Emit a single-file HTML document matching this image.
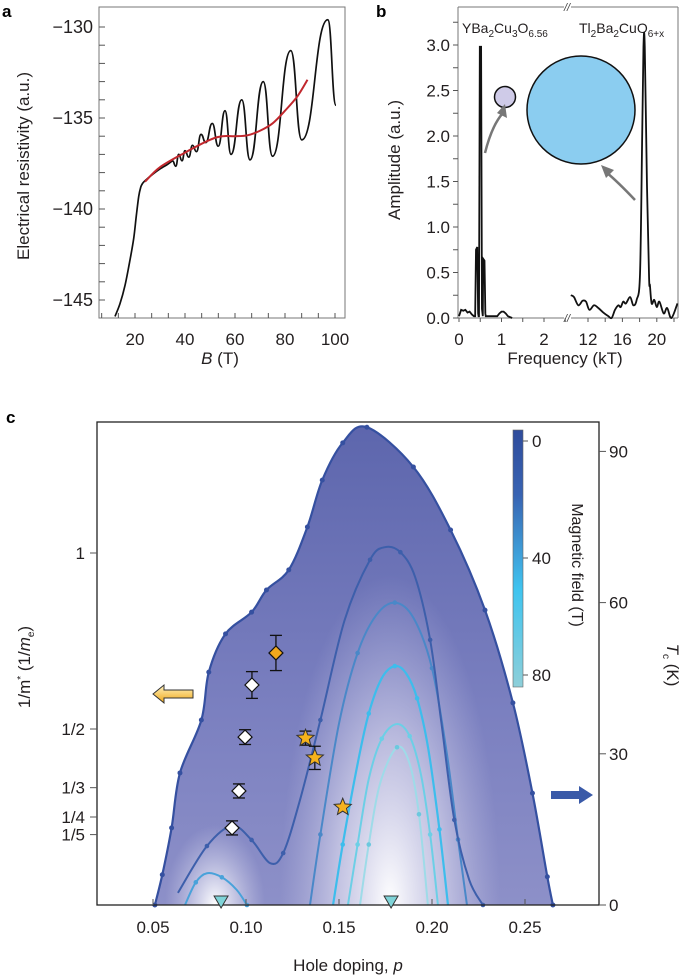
<!DOCTYPE html>
<html><head><meta charset="utf-8">
<style>
html,body{margin:0;padding:0;background:#fff;}
svg{display:block;font-family:"Liberation Sans",Arial,sans-serif;}
</style></head>
<body>
<svg id="fig" width="685" height="980" viewBox="0 0 685 980" xmlns="http://www.w3.org/2000/svg">
<defs>
  <linearGradient id="domeBase" x1="0" y1="0" x2="0" y2="1">
    <stop offset="0" stop-color="#5d66ad"/><stop offset="0.6" stop-color="#7b80c0"/><stop offset="1" stop-color="#8d90c8"/>
  </linearGradient>
  <radialGradient id="glowR" cx="390" cy="905" r="1" gradientUnits="userSpaceOnUse" gradientTransform="translate(390 905) scale(110 330) translate(-390 -905)">
    <stop offset="0" stop-color="#ffffff" stop-opacity="1"/><stop offset="0.5" stop-color="#e4e2f2" stop-opacity="0.6"/><stop offset="1" stop-color="#c8c8e6" stop-opacity="0"/>
  </radialGradient>
  <radialGradient id="glowL" cx="215" cy="905" r="1" gradientUnits="userSpaceOnUse" gradientTransform="translate(215 905) scale(50 80) translate(-215 -905)">
    <stop offset="0" stop-color="#ffffff" stop-opacity="1"/><stop offset="1" stop-color="#d0d0ea" stop-opacity="0"/>
  </radialGradient>
  <linearGradient id="cbar" x1="0" y1="0" x2="0" y2="1">
    <stop offset="0" stop-color="#2f4c9c"/><stop offset="0.25" stop-color="#3863b2"/><stop offset="0.5" stop-color="#3fa4dc"/><stop offset="0.62" stop-color="#3fc4ef"/><stop offset="1" stop-color="#8ecfd9"/>
  </linearGradient>
  <linearGradient id="yarrow" x1="0" y1="0" x2="0" y2="1">
    <stop offset="0" stop-color="#fff3c0"/><stop offset="1" stop-color="#f0a81a"/>
  </linearGradient>
  <clipPath id="domeClip"><path id="domeClipPath" d=""/></clipPath>
</defs>

<text x="2" y="17" font-size="17" font-weight="bold">a</text>
<text x="376" y="17" font-size="17" font-weight="bold">b</text>
<text x="6" y="423" font-size="17" font-weight="bold">c</text>

<g id="panelA"></g>
<g id="panelB"></g>
<g id="panelC"></g>
</svg>

<script>
// ---------- Panel a data ----------
const aTicksY = [-130, -135, -140, -145];
const aTicksX = [20, 40, 60, 80, 100];
const aBlackB = [12,14,16,18,19.5,20.5,21.5,22.3,23,24,27,30,33,35,36.3,37.5,38.8,40,41.5,43,44.6,46.4,48.3,50.9,53.3,56,58.4,62.7,66,71.3,75,82.3,86.7,97.1,100.4];
const aBlackV = [-145.9,-145.2,-144.2,-142.8,-141.6,-140.4,-139.3,-138.8,-138.6,-138.45,-138.1,-137.8,-137.55,-137.35,-137.65,-137.0,-137.35,-136.8,-137.15,-136.5,-136.85,-135.9,-136.35,-135.3,-136.55,-134.6,-137.0,-134.0,-137.3,-133.0,-137.1,-131.3,-136.2,-129.6,-134.3];
const aRedB = [24,30,40,50,55,60,65,70,75,80,85,89];
const aRedV = [-138.5,-137.7,-136.9,-136.2,-136.0,-136.0,-135.95,-135.7,-135.3,-134.6,-133.8,-132.9];

// ---------- Panel b data ----------
const bTicksY = [0, 0.5, 1.0, 1.5, 2.0, 2.5, 3.0];
const bTicksXLeft = [0, 1, 2];
const bTicksXRight = [12, 16, 20];
const bLeftF = [0,0.05,0.1,0.15,0.2,0.25,0.3,0.35,0.38,0.4,0.43,0.45,0.46,0.47,0.49,0.52,0.54,0.56,0.57,0.6,0.62,0.63,0.8,0.9,0.95,1.0,1.05,1.1,1.15,1.25];
const bLeftA = [0.02,0.09,0.08,0.09,0.06,0.07,0.04,0.02,0.02,0.75,0.78,0.05,0.02,0.02,2.98,2.98,0.1,0.02,0.65,0.63,0.05,0.02,0.02,0.02,0.05,0.07,0.07,0.05,0.02,0.0];
const bRightF = [10.0,10.37,10.87,11.38,11.77,12.16,12.7,13.2,13.78,14.36,14.75,15.14,15.53,15.8,16.1,16.4,16.9,17.27,17.66,18.05,18.3,18.45,18.6,18.85,19.1,19.2,19.4,19.7,20.0,20.3,20.8,21.2,21.7,22.4];
const bRightA = [0.25,0.23,0.14,0.19,0.18,0.09,0.14,0.11,0.06,0.02,0.0,0.09,0.14,0.12,0.18,0.16,0.23,0.14,0.2,0.49,2.0,2.98,2.98,1.5,0.45,0.36,0.16,0.2,0.12,0.18,0.05,0.11,0.0,0.16];

// ---------- Panel c data ----------
const cTicksX = [0.05, 0.10, 0.15, 0.20, 0.25];
const cTicksLeftVal = [1, 0.5, 1/3, 0.25, 0.2];
const cTicksLeftLab = ["1", "1/2", "1/3", "1/4", "1/5"];
const cTicksTc = [90, 60, 30, 0];
const cbarTicks = [0, 40, 80];
const domeP = [0.051,0.055,0.060,0.0645,0.076,0.080,0.089,0.103,0.111,0.123,0.133,0.141,0.152,0.165,0.190,0.210,0.2285,0.2435,0.254,0.262,0.265];
const domeT = [0,6,15.3,26.2,36.7,46.2,53.8,58.1,62.5,66.5,75,84.3,91.7,94.8,86.9,74.4,58.5,40.1,22.2,5.6,0];
const c1P = [0.0634,0.079,0.0925,0.103,0.113,0.120,0.129,0.140,0.153,0.1667,0.1747,0.183,0.191,0.199,0.205,0.212,0.220,0.2274];
const c1T = [2.4,11.7,15.7,12.9,8.3,10.3,20.8,36.7,56.5,68.5,71,70,65,52.6,36.3,16.9,5,0];
const c2P = [0.1344,0.140,0.150,0.160,0.170,0.180,0.190,0.200,0.208,0.214,0.2188];
const c2T = [0,14,36,50,57.5,60,57,47,30,13,0];
const c3P = [0.1468,0.152,0.160,0.166,0.173,0.180,0.186,0.192,0.198,0.204,0.2086];
const c3T = [0,12,28,38,45,47.4,46,41,31,15,0];
const c4P = [0.1548,0.160,0.166,0.173,0.181,0.188,0.194,0.199,0.2032];
const c4T = [0,12,25,33,35.9,33.5,26,14,0];
const c5P = [0.1613,0.166,0.172,0.1812,0.188,0.193,0.1978];
const c5T = [0,12,24,31.3,28,18,0];
const humpP = [0.0672,0.073,0.079,0.087,0.095,0.1005];
const humpT = [0,4.5,6.3,5.5,3,0];
const whiteP = [0.1032,0.0995,0.0962,0.0925];
const whiteV = [0.625,0.477,0.324,0.219];
const whiteErr = [0.038,0.021,0.02,0.02];
const orangeP = [0.1161];
const orangeV = [0.716];
const orangeErr = [0.05];
const starP = [0.132,0.137,0.152];
const starV = [0.474,0.418,0.278];
const starErr = [0.02,0.033,0];
const triP = [0.0866,0.178];

const NS = "http://www.w3.org/2000/svg";
function mk(tag, attrs, parent) {
  const e = document.createElementNS(NS, tag);
  for (const k in attrs) e.setAttribute(k, attrs[k]);
  parent.appendChild(e);
  return e;
}
function txt(parent, x, y, s, size, anchor) {
  const t = mk("text", {x: x, y: y, "font-size": size, "text-anchor": anchor || "middle", fill: "#231f20"}, parent);
  t.textContent = s;
  return t;
}
function catmull(pts) {
  let d = "M" + pts[0][0].toFixed(2) + "," + pts[0][1].toFixed(2);
  for (let i = 0; i < pts.length - 1; i++) {
    const p0 = pts[i - 1] || pts[i], p1 = pts[i], p2 = pts[i + 1], p3 = pts[i + 2] || pts[i + 1];
    const c1x = p1[0] + (p2[0] - p0[0]) / 6, c1y = p1[1] + (p2[1] - p0[1]) / 6;
    const c2x = p2[0] - (p3[0] - p1[0]) / 6, c2y = p2[1] - (p3[1] - p1[1]) / 6;
    d += " C" + c1x.toFixed(2) + "," + c1y.toFixed(2) + " " + c2x.toFixed(2) + "," + c2y.toFixed(2) + " " + p2[0].toFixed(2) + "," + p2[1].toFixed(2);
  }
  return d;
}
function flatSmooth(pts) {
  let d = "M" + pts[0][0].toFixed(2) + "," + pts[0][1].toFixed(2);
  for (let i = 0; i < pts.length - 1; i++) {
    const a = pts[i], b = pts[i + 1], dx = (b[0] - a[0]) / 2;
    d += " C" + (a[0] + dx).toFixed(2) + "," + a[1].toFixed(2) + " " + (b[0] - dx).toFixed(2) + "," + b[1].toFixed(2) + " " + b[0].toFixed(2) + "," + b[1].toFixed(2);
  }
  return d;
}
function lin(pts) { return "M" + pts.map(p => p[0].toFixed(2) + "," + p[1].toFixed(2)).join(" L"); }

// ================= Panel A =================
(function () {
  const g = document.getElementById("panelA");
  const xa = B => 85 + 2.5 * B;
  const ya = v => 27 + (-130 - v) * 18.2;
  const L = 99, R = 345, T = 7, Bm = 318;
  const frame = mk("rect", {x: L, y: T, width: R - L, height: Bm - T, fill: "none", stroke: "#777", "stroke-width": 1}, g);
  
  
  for (let v = -130; v >= -146; v--) {
    const y = ya(v); if (y < T || y > Bm) continue;
    mk("line", {x1: L, x2: L + 6, y1: y, y2: y, stroke: "#555", "stroke-width": 1}, g);
  }
  aTicksY.forEach(v => {
    const t = txt(g, L - 6, ya(v) + 6, "\u2212" + Math.abs(v), 18, "end");
    
    
  });
  for (let B = 20 - 40 / 3; B <= 106; B += 20 / 3) {
    const x = xa(B); if (x < L || x > R) continue;
    mk("line", {x1: x, x2: x, y1: Bm, y2: Bm - 5, stroke: "#555", "stroke-width": 1}, g);
  }
  aTicksX.forEach(B => {
    const t = txt(g, xa(B), 345, String(B), 17);
    
    
  });
  const xl = mk("text", {x: 220, y: 364, "font-size": 17, "text-anchor": "middle", fill: "#231f20"}, g);
  xl.innerHTML = '<tspan font-style="italic">B</tspan> (T)';
  
  
  const yl = mk("text", {x: 0, y: 0, "font-size": 17, "text-anchor": "middle", fill: "#231f20", transform: "translate(29,166) rotate(-90)"}, g);
  yl.textContent = "Electrical resistivity (a.u.)";
  
  

  const pts = aBlackB.map((b, i) => [xa(b), ya(aBlackV[i])]);
  const riseN = 13;
  let d = catmull(pts.slice(0, riseN + 1));
  d += flatSmooth(pts.slice(riseN)).replace(/^M[^C]*/, " ");
  const blk = mk("path", {d: d, fill: "none", stroke: "#111", "stroke-width": 1.7}, g);
  
  
  const red = mk("path", {d: catmull(aRedB.map((b, i) => [xa(b), ya(aRedV[i])])), fill: "none", stroke: "#c1272d", "stroke-width": 2}, g);
  
  
})();

// ================= Panel B =================
(function () {
  const g = document.getElementById("panelB");
  const xl = f => 459 + 42.5 * f;
  const xr = f => 588 + 8.6 * (f - 12);
  const yb = A => 318 - 91 * A;
  const L = 458, R = 678, T = 7, Bm = 318;
  mk("line", {x1: L, x2: L, y1: T, y2: Bm, stroke: "#777"}, g);
  mk("line", {x1: R, x2: R, y1: T, y2: Bm, stroke: "#777"}, g);
  mk("line", {x1: L, x2: 564, y1: T, y2: T, stroke: "#777"}, g);
  mk("line", {x1: 571, x2: R, y1: T, y2: T, stroke: "#777"}, g);
  mk("line", {x1: L, x2: 564, y1: Bm, y2: Bm, stroke: "#777"}, g);
  mk("line", {x1: 571, x2: R, y1: Bm, y2: Bm, stroke: "#777"}, g);
  [[564, T], [564, Bm]].forEach(p => {
    const br = mk("text", {x: p[0] + 3, y: p[1] + 4, "font-size": 11, "text-anchor": "middle", fill: "#444", "font-style": "italic"}, g);
    br.textContent = "//";
    
    
  });
  for (let A = 0; A <= 3.25; A += 0.25) mk("line", {x1: L - 5, x2: L, y1: yb(A), y2: yb(A), stroke: "#555"}, g);
  bTicksY.forEach(A => {
    const t = txt(g, L - 8, yb(A) + 6, A.toFixed(1), 17, "end");
    
    
  });
  for (let f = 0; f <= 2.5; f += 0.5) mk("line", {x1: xl(f), x2: xl(f), y1: Bm, y2: Bm + 4, stroke: "#555"}, g);
  for (let f = 12; f <= 22; f += 2) mk("line", {x1: xr(f), x2: xr(f), y1: Bm, y2: Bm + 4, stroke: "#555"}, g);
  bTicksXLeft.forEach(f => { const t = txt(g, xl(f), 345, String(f), 17);   });
  bTicksXRight.forEach(f => { const t = txt(g, xr(f), 345, String(f), 17);   });
  const xt = txt(g, 565, 364, "Frequency (kT)", 17);
  
  
  const yt = mk("text", {x: 0, y: 0, "font-size": 17, "text-anchor": "middle", fill: "#231f20", transform: "translate(400,160) rotate(-90)"}, g);
  yt.textContent = "Amplitude (a.u.)";
  
  

  const l1 = mk("text", {x: 462, y: 33, "font-size": 14, fill: "#231f20"}, g);
  l1.innerHTML = 'YBa<tspan font-size="10" dy="4">2</tspan><tspan dy="-4">Cu</tspan><tspan font-size="10" dy="4">3</tspan><tspan dy="-4">O</tspan><tspan font-size="10" dy="4">6.56</tspan>';
  
  
  const l2 = mk("text", {x: 579, y: 33, "font-size": 14, fill: "#231f20"}, g);
  l2.innerHTML = 'Tl<tspan font-size="10" dy="4">2</tspan><tspan dy="-4">Ba</tspan><tspan font-size="10" dy="4">2</tspan><tspan dy="-4">CuO</tspan><tspan font-size="10" dy="4">6+x</tspan>';
  
  

  const c1 = mk("circle", {cx: 505, cy: 97, r: 10.5, fill: "#cfcbe8", stroke: "#111", "stroke-width": 1.5}, g);
  
  
  const c2 = mk("circle", {cx: 581, cy: 110, r: 54, fill: "#8bcdf0", stroke: "#111", "stroke-width": 1.5}, g);
  
  
  const a1 = mk("path", {d: "M485,153 Q492,125 503,113", fill: "none", stroke: "#777", "stroke-width": 2.5}, g);
  
  
  mk("path", {d: "M505,104 L507,118 L497,113 Z", fill: "#777"}, g);
  const a2 = mk("path", {d: "M635,200 Q618,182 606,172", fill: "none", stroke: "#777", "stroke-width": 2.5}, g);
  
  
  mk("path", {d: "M601,165 L614,170 L606,178 Z", fill: "#777"}, g);

  const lp = mk("path", {d: lin(bLeftF.map((f, i) => [xl(f), yb(bLeftA[i])])), fill: "none", stroke: "#111", "stroke-width": 1.8}, g);
  
  
  const rp = mk("path", {d: catmull(bRightF.map((f, i) => [xr(f), yb(bRightA[i])])), fill: "none", stroke: "#111", "stroke-width": 1.8}, g);
  
  
})();

// ================= Panel C =================
(function () {
  const g = document.getElementById("panelC");
  const xc = p => 60 + 1860 * p;
  const yT = T => 905 - 5.04 * T;
  const ym = v => 905 - 352 * v;
  const L = 97, R = 599, T0 = 422, Bm = 905;

  const domePts = domeP.map((p, i) => [xc(p), yT(domeT[i])]);
  const domeD = catmull(domePts) + " Z";
  document.getElementById("domeClipPath").setAttribute("d", domeD);
  const fill = mk("path", {d: domeD, fill: "url(#domeBase)"}, g);
  
  
  const gl = mk("g", {"clip-path": "url(#domeClip)"}, g);
  mk("rect", {x: 250, y: 550, width: 300, height: 360, fill: "url(#glowR)"}, gl);
  mk("rect", {x: 160, y: 820, width: 110, height: 90, fill: "url(#glowL)"}, gl);

  const contours = [
    [humpP, humpT, "#49a2da", 2, 'contour-low-doping'],
    [c5P, c5T, "#9edbe8", 2, 'contour-80t'],
    [c4P, c4T, "#6ccfe6", 2, 'contour-60t'],
    [c3P, c3T, "#3dbdec", 2.2, 'contour-40t'],
    [c2P, c2T, "#4a88c8", 2, 'contour-20t'],
    [c1P, c1T, "#3d5fab", 2, 'contour-10t']
  ];
  contours.forEach(c => {
    const pts = c[0].map((p, i) => [xc(p), yT(c[1][i])]);
    const e = mk("path", {d: catmull(pts), fill: "none", stroke: c[2], "stroke-width": c[3]}, g);
    
    
    pts.forEach((pt, i) => {
      if (i % 2 === 1) {
        const dt = mk("circle", {cx: pt[0], cy: pt[1], r: 2.3, fill: c[2] === "#9edbe8" ? "#6cc8de" : c[2]}, g);
        
        
      }
    });
  });
  const outline = mk("path", {d: catmull(domePts), fill: "none", stroke: "#3550a0", "stroke-width": 2.2}, g);
  
  
  domePts.forEach(pt => {
    const dt = mk("circle", {cx: pt[0], cy: pt[1], r: 2.5, fill: "#3550a0"}, g);
    
    
  });

  const fr = mk("rect", {x: L, y: T0, width: R - L, height: Bm - T0, fill: "none", stroke: "#222", "stroke-width": 1.3}, g);
  
  
  cTicksX.forEach(p => {
    mk("line", {x1: xc(p), x2: xc(p), y1: Bm, y2: Bm - 6, stroke: "#555"}, g);
    const t = txt(g, xc(p), 933, p.toFixed(2), 17);
    
    
  });
  cTicksLeftVal.forEach((v, i) => {
    mk("line", {x1: L - 7, x2: L, y1: ym(v), y2: ym(v), stroke: "#555"}, g);
    const t = txt(g, L - 12, ym(v) + 6, cTicksLeftLab[i], 17, "end");
    
    
  });
  cTicksTc.forEach(T => {
    mk("line", {x1: R, x2: R + 7, y1: yT(T), y2: yT(T), stroke: "#555"}, g);
    const t = txt(g, R + 10, yT(T) + 6, String(T), 17, "start");
    
    
  });
  const xt = mk("text", {x: 348, y: 971, "font-size": 17, "text-anchor": "middle", fill: "#231f20"}, g);
  xt.innerHTML = 'Hole doping, <tspan font-style="italic">p</tspan>';
  
  
  const yt = mk("text", {x: 0, y: 0, "font-size": 17, "text-anchor": "middle", fill: "#231f20", transform: "translate(30,667) rotate(-90)"}, g);
  yt.innerHTML = '1/m<tspan font-size="10" dy="-6">*</tspan><tspan dy="6"> (1/</tspan><tspan font-style="italic">m</tspan><tspan font-size="10" dy="4">e</tspan><tspan dy="-4">)</tspan>';
  
  
  const tt = mk("text", {x: 0, y: 0, "font-size": 17, "text-anchor": "middle", fill: "#231f20", transform: "translate(667,665) rotate(90)"}, g);
  tt.innerHTML = '<tspan font-style="italic">T</tspan><tspan font-size="10" dy="4">c</tspan><tspan dy="-4"> (K)</tspan>';
  
  

  const cb = mk("rect", {x: 513, y: 430, width: 10, height: 257, fill: "url(#cbar)", stroke: "#666", "stroke-width": 0.6}, g);
  
  
  const cby = f => 441 + (f / 80) * 234;
  cbarTicks.forEach(f => {
    mk("line", {x1: 523, x2: 528, y1: cby(f), y2: cby(f), stroke: "#555"}, g);
    const t = txt(g, 532, cby(f) + 6, String(f), 17, "start");
    
    
  });
  const ct = mk("text", {x: 0, y: 0, "font-size": 16, "text-anchor": "middle", fill: "#231f20", transform: "translate(572,565) rotate(90)"}, g);
  ct.textContent = "Magnetic field (T)";
  
  

  const ya = mk("path", {d: "M153,694 L164,685 L164,690 L193,690 L193,698 L164,698 L164,703 Z", fill: "url(#yarrow)", stroke: "#333", "stroke-width": 1}, g);
  
  
  const ba = mk("path", {d: "M551,791 L579,791 L579,786 L593,795 L579,804 L579,799 L551,799 Z", fill: "#3a5aa8"}, g);
  
  

  triP.forEach(p => {
    const x = xc(p);
    const t = mk("path", {d: `M${x - 7},${Bm - 9} L${x + 7},${Bm - 9} L${x},${Bm + 3} Z`, fill: "#7fd3d8", stroke: "#333", "stroke-width": 1}, g);
    
    
  });

  function errbar(x, v, e) {
    if (e <= 0) return;
    const y1 = ym(v + e), y2 = ym(v - e);
    mk("line", {x1: x, x2: x, y1: y1, y2: y2, stroke: "#111", "stroke-width": 1.3}, g);
    mk("line", {x1: x - 6, x2: x + 6, y1: y1, y2: y1, stroke: "#111", "stroke-width": 1.3}, g);
    mk("line", {x1: x - 6, x2: x + 6, y1: y2, y2: y2, stroke: "#111", "stroke-width": 1.3}, g);
  }
  function diamond(x, y, fillc) {
    return mk("path", {d: `M${x},${y - 7} L${x + 7},${y} L${x},${y + 7} L${x - 7},${y} Z`, fill: fillc, stroke: "#111", "stroke-width": 1.2}, g);
  }
  whiteP.forEach((p, i) => {
    errbar(xc(p), whiteV[i], whiteErr[i]);
    const d = diamond(xc(p), ym(whiteV[i]), "#fff");
    
    
  });
  orangeP.forEach((p, i) => {
    errbar(xc(p), orangeV[i], orangeErr[i]);
    const d = diamond(xc(p), ym(orangeV[i]), "#f2a81d");
    
    
  });
  starP.forEach((p, i) => {
    const x = xc(p), y = ym(starV[i]);
    errbar(x, starV[i], starErr[i]);
    let d = "";
    for (let k = 0; k < 10; k++) {
      const r = k % 2 === 0 ? 9 : 4;
      const a = -Math.PI / 2 + k * Math.PI / 5;
      d += (k ? "L" : "M") + (x + r * Math.cos(a)).toFixed(2) + "," + (y + r * Math.sin(a)).toFixed(2);
    }
    const s = mk("path", {d: d + "Z", fill: "#f5b21c", stroke: "#333", "stroke-width": 1}, g);
    
    
  });
})();
</script>
</body></html>
